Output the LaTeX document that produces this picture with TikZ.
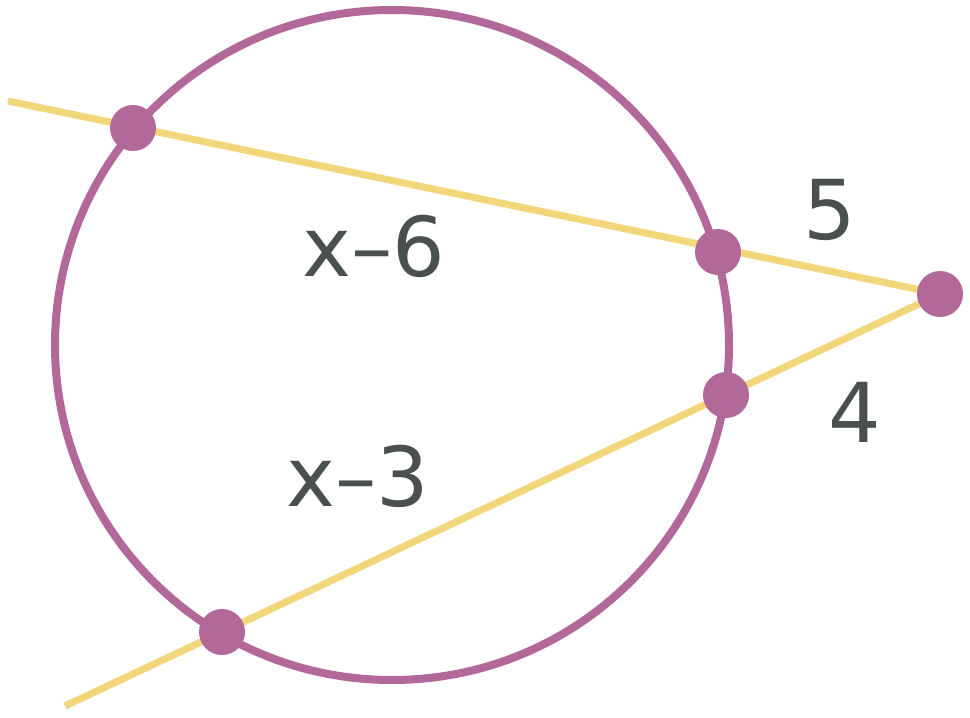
\documentclass[tikz,border=0pt]{standalone}
\usepackage{fontspec}
\setmainfont{DejaVu Sans}
\definecolor{circ}{HTML}{B3689A}
\definecolor{seg}{HTML}{F2D67A}
\definecolor{txt}{HTML}{4A4F50}
\begin{document}
\begin{tikzpicture}[x=0.75pt,y=-0.75pt]
\tikzset{
  ptdot/.style={circle,fill=circ,minimum size=34.5pt,inner sep=0pt},
  seca/.style={draw=seg,line width=5.3pt},
  lbl/.style={text=txt,font=\fontsize{62}{68}\selectfont,inner sep=0pt}
}
\useasboundingbox (0,0) rectangle (970,717);
\fill[white] (0,0) rectangle (970,717);
\coordinate (s1) at (8,101);
\coordinate (s2) at (65,706);
\coordinate (P) at (940,294);
\draw[seca] (s1) -- (P);
\draw[seca] (s2) -- (P);
\draw[circ,line width=6pt] (392,345) ellipse [x radius=337, y radius=335];
\node[ptdot] (A) at (133,128) {};
\node[ptdot] (B) at (718,252) {};
\node[ptdot] (C) at (726,395) {};
\node[ptdot] (D) at (222,632) {};
\node[ptdot] (E) at (P) {};
\node[lbl] (l1) at (374,246) {x–6};
\node[lbl] (l2) at (830,210) {5};
\node[lbl] (l3) at (855,412) {4};
\node[lbl] (l4) at (358,476) {x–3};
\end{tikzpicture}
\end{document}
